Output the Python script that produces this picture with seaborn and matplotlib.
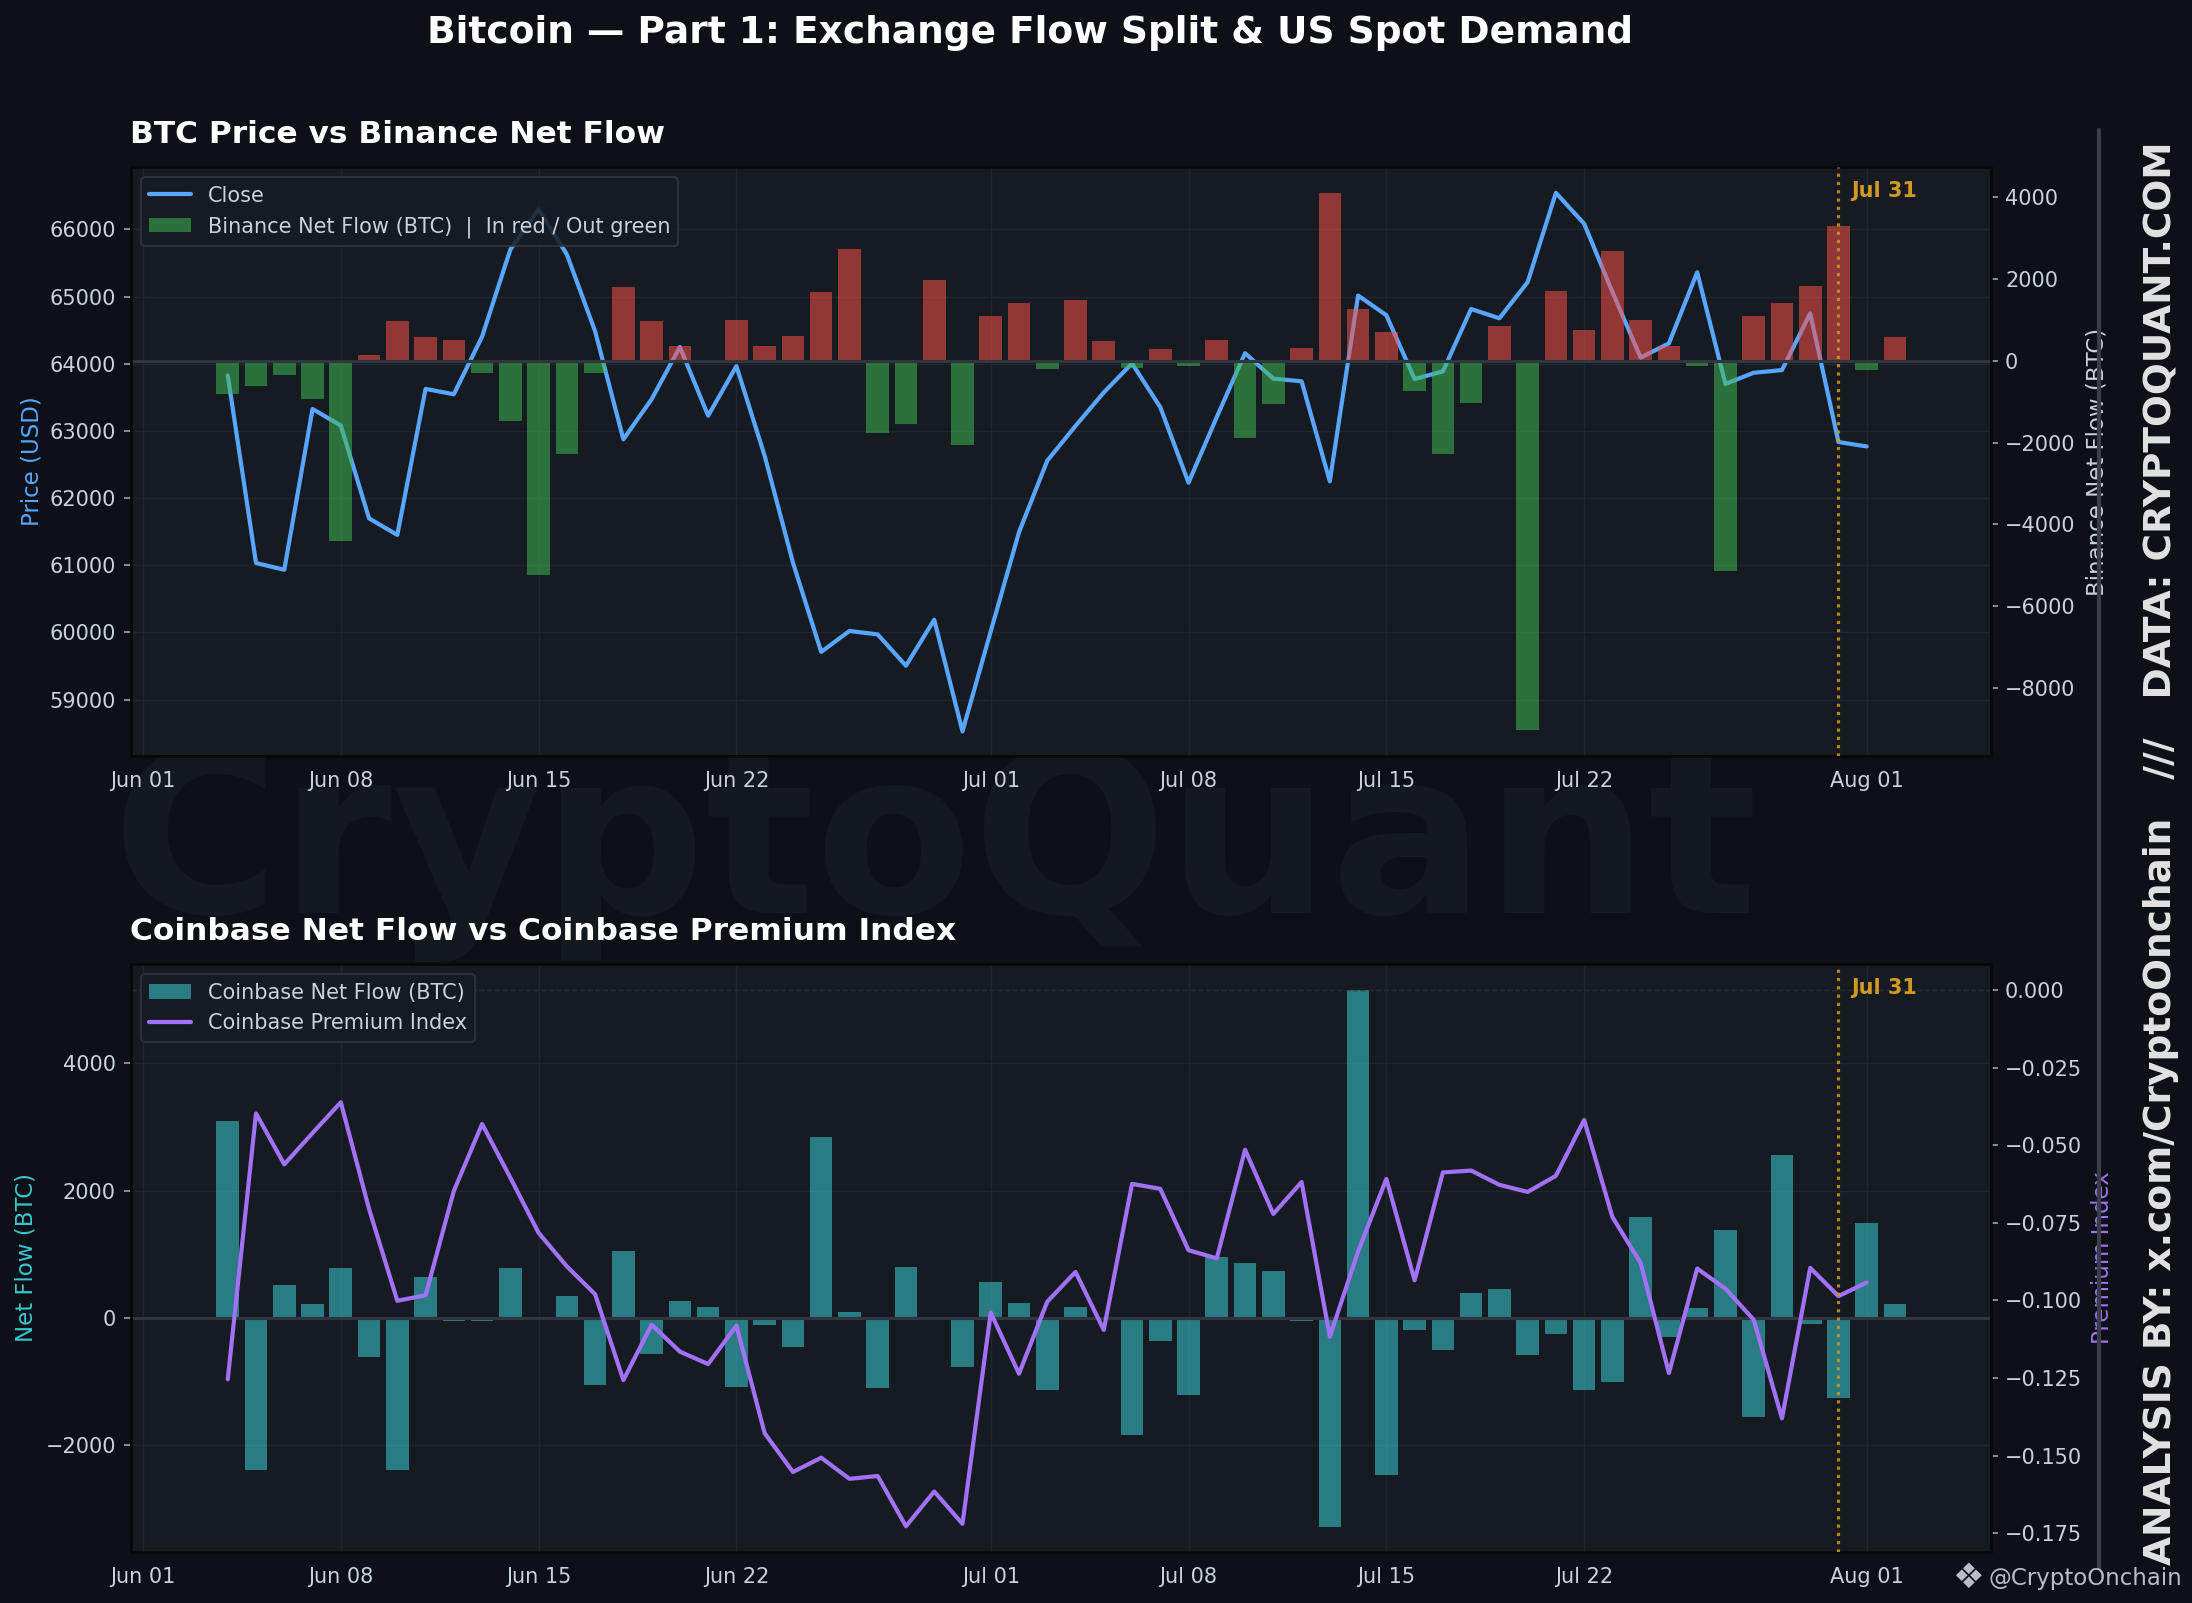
import matplotlib
matplotlib.use("Agg")
import matplotlib.dates as mdates
import matplotlib.pyplot as plt
import pandas as pd
import seaborn as sns
from matplotlib.lines import Line2D
from matplotlib.patches import Patch

W, H = 2192, 1603

BG = "#0d1117"
PANEL = "#161b22"
GRID = "#20262e"
EDGE = "#30363d"
TEXT = "#c9d1d9"
BLUE = "#58a6ff"
PURPLE = "#a371f7"
TEAL = "#39c5cf"
GREEN = "#3fb950"
RED = "#f85149"
ORANGE = "#d29922"

# daily closes, Jun 04 -> Aug 01
close = [
    63826, 61033, 60933, 63327, 63081, 61698, 61452, 63626, 63546, 64404,
    65700, 66300, 65628, 64484, 62875, 63473, 64250, 63227, 63965, 62630,
    61040, 59710, 60022, 59970, 59504, 60189, 58526, 60016, 61492, 62556,
    63075, 63573, 64005, 63354, 62230, 63207, 64158, 63779, 63739, 62250,
    65016, 64723, 63773, 63886, 64816, 64677, 65215, 66545, 66086, 65069,
    64092, 64304, 65362, 63700, 63866, 63906, 64750, 62835, 62769,
]

premium = [
    -0.1254, -0.0397, -0.0561, -0.0460, -0.0361, -0.0705, -0.1001, -0.0983,
    -0.0647, -0.0431, -0.0604, -0.0782, -0.0890, -0.0980, -0.1257, -0.1078,
    -0.1165, -0.1205, -0.1081, -0.1428, -0.1553, -0.1507, -0.1575, -0.1566,
    -0.1728, -0.1616, -0.1720, -0.1039, -0.1236, -0.1004, -0.0908, -0.1095,
    -0.0624, -0.0640, -0.0838, -0.0864, -0.0514, -0.0721, -0.0618, -0.1117,
    -0.0842, -0.0608, -0.0935, -0.0587, -0.0581, -0.0627, -0.0650, -0.0598,
    -0.0418, -0.0731, -0.0879, -0.1234, -0.0897, -0.0962, -0.1062, -0.1380,
    -0.0895, -0.0986, -0.0942,
]

# daily flows, Jun 04 -> Aug 02
binance_flow = [
    -808, -611, -360, -928, -4400, 130, 960, 570, 513, -295,
    -1485, -5230, -2290, -295, 1812, 960, 350, 0, 1000, 350,
    610, 1690, 2720, -1760, -1540, 1965, -2070, 1100, 1420, -200,
    1475, 470, -170, 290, -140, 510, -1880, -1050, 310, 4090,
    1260, 690, -750, -2290, -1030, 840, -9020, 1710, 760, 2690,
    1000, 370, -140, -5130, 1100, 1400, 1830, 3285, -220, 570,
]

coinbase_flow = [
    3087, -2384, 513, 218, 780, -612, -2384, 640, -49, -49,
    780, -35, 345, -1055, 1048, -570, 267, 169, -1083, -112,
    -457, 2834, 91, -1097, 795, 0, -774, 563, 232, -1132,
    169, 0, -1835, -366, -1210, 963, 858, 738, -49, -3277,
    5140, -2468, -190, -506, 387, 450, -584, -253, -1132, -1006,
    1582, -302, 155, 1378, -1554, 2553, -98, -1259, 1491, 218,
]

line_days = mdates.date2num(pd.date_range("2024-06-04", periods=len(close)))
bar_days = mdates.date2num(pd.date_range("2024-06-04", periods=len(binance_flow)))
jun_01 = mdates.date2num(pd.Timestamp("2024-06-01"))
jul_31 = mdates.date2num(pd.Timestamp("2024-07-31"))


def px_axes(left, top, right, bottom):
    return [left / W, 1 - bottom / H, (right - left) / W, (bottom - top) / H]


def style_pair(ax, ax2):
    for a in (ax, ax2):
        for spine in a.spines.values():
            spine.set_color("#07090c")
            spine.set_linewidth(1.2)
        a.tick_params(colors=TEXT, color="#9aa3ad", labelsize=10, length=3.5, width=0.8)
    ax.xaxis.set_major_locator(mdates.DayLocator(bymonthday=[1, 8, 15, 22]))
    ax.xaxis.set_major_formatter(mdates.DateFormatter("%b %d"))
    ax.set_xlim(jun_01 - 0.442, jun_01 + 65.38)
    ax.set_xlabel("")
    ax2.set_xlabel("")
    ax.grid(True, color=GRID, linewidth=0.7)
    ax2.grid(False)
    ax2.patch.set_visible(False)


def mark_jul31(ax):
    ax.axvline(jul_31, color=ORANGE, linestyle=":", linewidth=1.5, alpha=0.85, zorder=6)
    ax.text(
        jul_31 + 0.46, 0.96, "Jul 31", transform=ax.get_xaxis_transform(),
        color=ORANGE, fontsize=10, fontweight="bold", va="center", zorder=6,
    )


sns.set_theme(style="darkgrid", rc={
    "figure.facecolor": BG,
    "axes.facecolor": PANEL,
    "savefig.facecolor": BG,
    "font.family": "DejaVu Sans",
})

fig = plt.figure(figsize=(W / 150, H / 150), dpi=150)

# watermark sits behind both panels
fig.text(935 / W, 1 - 913 / H, "CryptoQuant", color="#141920", fontsize=110,
         fontweight="bold", ha="center", va="baseline", zorder=-1)

# top panel: price on the left axis, bars on the twin so they tint the line
ax1 = fig.add_axes(px_axes(130.5, 167, 1990.5, 756))
ax1b = ax1.twinx()
sns.lineplot(x=line_days, y=close, color=BLUE, linewidth=2.0, errorbar=None, ax=ax1)

binance = pd.DataFrame({"day": bar_days, "flow": binance_flow})
binance["side"] = ["in" if v >= 0 else "out" for v in binance_flow]
sns.barplot(
    data=binance, x="day", y="flow", hue="side", palette={"in": RED, "out": GREEN},
    native_scale=True, dodge=False, width=0.8, saturation=1, alpha=0.55,
    errorbar=None, legend=False, edgecolor="none", linewidth=0, ax=ax1b,
)
ax1b.axhline(0, color=EDGE, linewidth=1.5)
ax1.set_ylim(58160, 66930)
ax1b.set_ylim(-9665, 4736)
style_pair(ax1, ax1b)
ax1.set_yticks(range(59000, 67000, 1000))
ax1b.set_yticks(range(-8000, 5000, 2000))
mark_jul31(ax1b)

ax1.set_title("BTC Price vs Binance Net Flow", loc="left", color="white",
              fontsize=15, fontweight="bold", pad=11.7)
ax1.set_ylabel("Price (USD)", color=BLUE, fontsize=11)
ax1b.set_ylabel("Binance Net Flow (BTC)", color=TEXT, fontsize=11)
ax1.yaxis.set_label_coords(-0.0467, 0.5)
ax1b.yaxis.set_label_coords(1.0509, 0.5)

handles = [
    Line2D([], [], color=BLUE, linewidth=2.0),
    Patch(facecolor=GREEN, alpha=0.55, linewidth=0),
]
ax1b.legend(handles, ["Close", "Binance Net Flow (BTC)  |  In red / Out green"],
            loc="upper left", fontsize=10, facecolor=PANEL, edgecolor=EDGE,
            labelcolor=TEXT, framealpha=0.85)

# bottom panel: coinbase bars on the left axis, premium on the twin
ax2 = fig.add_axes(px_axes(130.5, 964, 1990.5, 1552))
ax2b = ax2.twinx()
sns.barplot(
    x=bar_days, y=coinbase_flow, color=TEAL, native_scale=True, width=0.8,
    saturation=1, alpha=0.57, errorbar=None, edgecolor="none", linewidth=0, ax=ax2,
)
ax2.axhline(0, color=EDGE, linewidth=1.5)
sns.lineplot(x=line_days, y=premium, color=PURPLE, linewidth=2.0, errorbar=None, ax=ax2b)
ax2b.axhline(0, color=EDGE, linewidth=0.7, linestyle="--", alpha=0.7)
ax2.set_ylim(-3675, 5556)
ax2b.set_ylim(-0.1811, 0.0085)
style_pair(ax2, ax2b)
ax2.set_yticks([-2000, 0, 2000, 4000])
ax2b.set_yticks([0, -0.025, -0.05, -0.075, -0.1, -0.125, -0.15, -0.175])
mark_jul31(ax2b)

ax2.set_title("Coinbase Net Flow vs Coinbase Premium Index", loc="left", color="white",
              fontsize=15, fontweight="bold", pad=11.7)
ax2.set_ylabel("Net Flow (BTC)", color=TEAL, fontsize=11)
ax2b.set_ylabel("Premium Index", color=PURPLE, fontsize=11)
ax2.yaxis.set_label_coords(-0.0500, 0.5)
ax2b.yaxis.set_label_coords(1.0538, 0.5)

handles = [
    Patch(facecolor=TEAL, alpha=0.57, linewidth=0),
    Line2D([], [], color=PURPLE, linewidth=2.0),
]
ax2b.legend(handles, ["Coinbase Net Flow (BTC)", "Coinbase Premium Index"],
            loc="upper left", fontsize=10, facecolor=PANEL, edgecolor=EDGE,
            labelcolor=TEXT, framealpha=0.85)

fig.text(1030 / W, 1 - 43 / H, "Bitcoin \u2014 Part 1: Exchange Flow Split & US Spot Demand",
         color="white", fontsize=18, fontweight="bold", ha="center", va="baseline")

# right hand credit strip
fig.add_artist(Line2D([2099 / W, 2099 / W], [1 - 130 / H, 1 - 1568 / H],
                      color="#3a3f47", linewidth=2))
fig.text(2161 / W, 1 - 853 / H,
         "ANALYSIS BY: x.com/CryptoOnchain   ///   DATA: CRYPTOQUANT.COM",
         color="#e2e2e2", fontsize=18, fontweight="bold", rotation=90,
         ha="center", va="center")
fig.text(1968 / W, 1 - 1578 / H, "\u2756", color="#b8bec6", fontsize=17,
         ha="center", va="center")
fig.text(1989 / W, 1 - 1578 / H, "@CryptoOnchain", color="#b8bec6", fontsize=11,
         ha="left", va="center")

fig.savefig("out.png", dpi=150)
